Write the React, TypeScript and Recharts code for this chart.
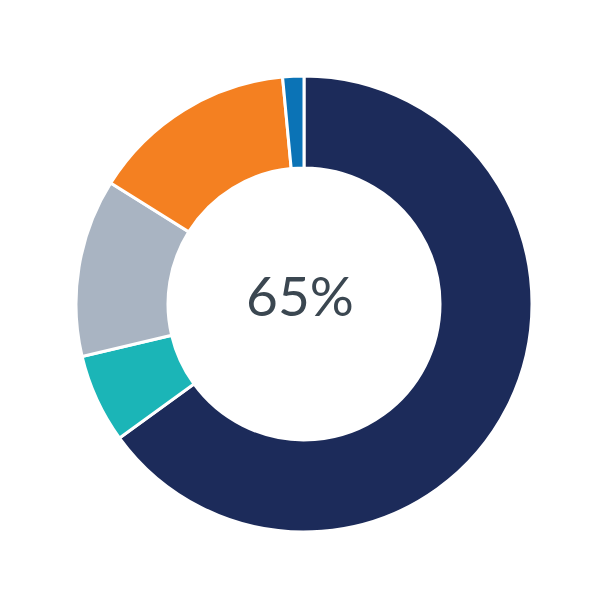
import React from "react";
import { PieChart, Pie, Cell } from "recharts";

const categories = ["Navy", "Teal", "Gray", "Orange", "Blue"];
const values = [65, 6.3, 12.6, 14.6, 1.5];
const colors = ["#1c2b5a", "#1bb5b7", "#a9b4c2", "#f48021", "#0b73b6"];
const centerLabel = "65%";

const data = categories.map((name, i) => ({ name, value: values[i] }));

export default function App() {
  return (
    <div style={{ position: "absolute", left: 0, top: 0, width: 600, height: 600, background: "#fff" }}>
      <PieChart width={600} height={600}>
        <Pie
          data={data}
          dataKey="value"
          nameKey="name"
          cx={299}
          cy={299}
          innerRadius={136}
          outerRadius={228}
          startAngle={90}
          endAngle={-270}
          stroke="#ffffff"
          strokeWidth={3}
          isAnimationActive={false}
        >
          {data.map((d, i) => (
            <Cell key={d.name} fill={colors[i]} />
          ))}
        </Pie>
        <text
          x={300}
          y={316}
          textAnchor="middle"
          fontFamily="Lato, sans-serif"
          fontWeight={400}
          fontSize={55}
          fill="#3b4751"
        >
          {centerLabel}
        </text>
      </PieChart>
    </div>
  );
}
